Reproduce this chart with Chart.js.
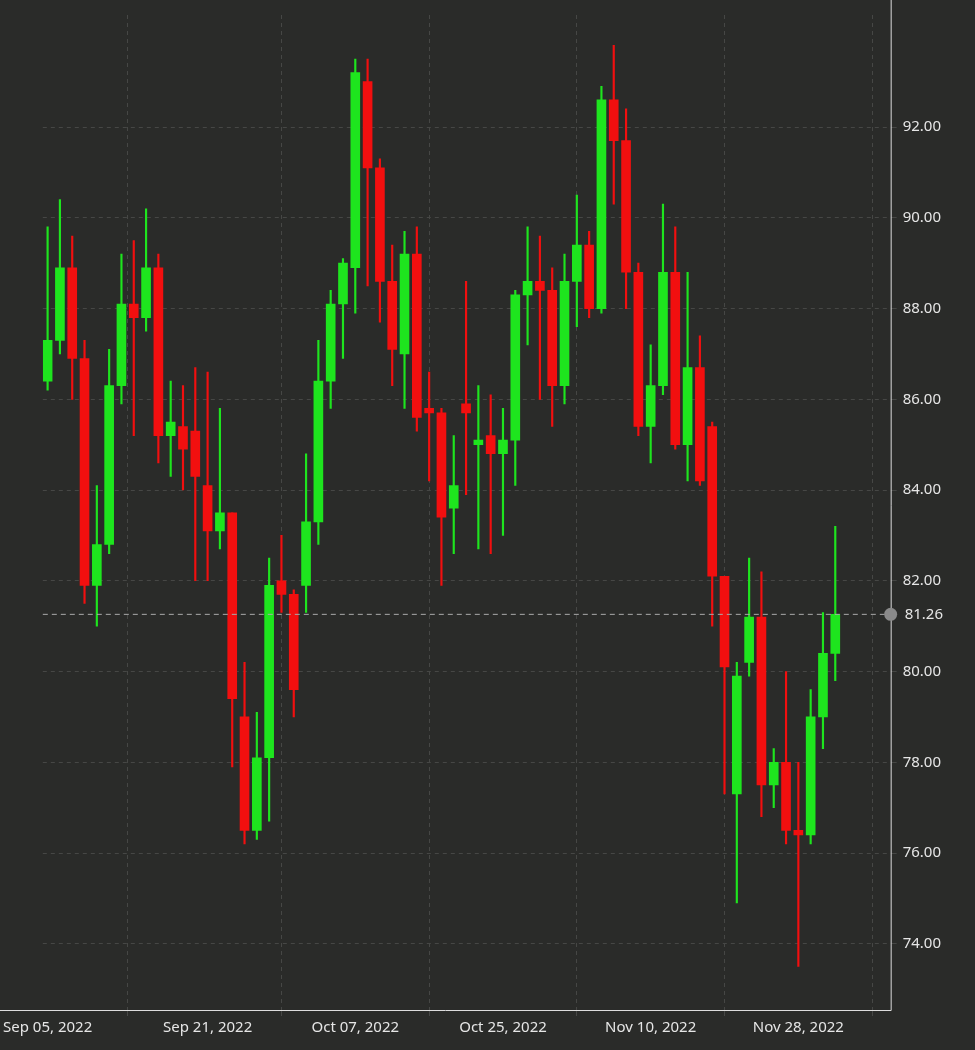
<!DOCTYPE html>
<html>
<head>
<meta charset="utf-8">
<script src="https://cdn.jsdelivr.net/npm/chart.js@4"></script>
<style>
  html, body { margin: 0; padding: 0; background: #2a2b29; }
  #wrap { width: 975px; height: 1050px; position: relative; }
</style>
</head>
<body>
<div id="wrap"><canvas id="chart1"></canvas></div>
<script>
const dates = [
  "Sep 05, 2022","Sep 06, 2022","Sep 07, 2022","Sep 08, 2022","Sep 09, 2022","Sep 12, 2022","Sep 13, 2022","Sep 14, 2022",
  "Sep 15, 2022","Sep 16, 2022","Sep 18, 2022","Sep 19, 2022","Sep 20, 2022","Sep 21, 2022","Sep 22, 2022","Sep 23, 2022",
  "Sep 26, 2022","Sep 27, 2022","Sep 28, 2022","Sep 29, 2022","Sep 30, 2022","Oct 03, 2022","Oct 04, 2022","Oct 05, 2022",
  "Oct 06, 2022","Oct 07, 2022","Oct 10, 2022","Oct 11, 2022","Oct 12, 2022","Oct 13, 2022","Oct 14, 2022","Oct 17, 2022",
  "Oct 18, 2022","Oct 19, 2022","Oct 20, 2022","Oct 21, 2022","Oct 24, 2022","Oct 25, 2022","Oct 26, 2022","Oct 27, 2022",
  "Oct 28, 2022","Oct 31, 2022","Nov 01, 2022","Nov 02, 2022","Nov 03, 2022","Nov 04, 2022","Nov 07, 2022","Nov 08, 2022",
  "Nov 09, 2022","Nov 10, 2022","Nov 11, 2022","Nov 14, 2022","Nov 15, 2022","Nov 16, 2022","Nov 17, 2022","Nov 18, 2022",
  "Nov 21, 2022","Nov 22, 2022","Nov 23, 2022","Nov 25, 2022","Nov 27, 2022","Nov 28, 2022","Nov 29, 2022","Nov 30, 2022",
  "Dec 01, 2022"
];
const tickIndexes = [0, 13, 25, 37, 49, 61];
const yTicks = [74, 76, 78, 80, 82, 84, 86, 88, 90, 92];
const opens  = [86.4,87.3,88.9,86.9,81.9,82.8,86.3,88.1,87.8,88.9,85.2,85.4,85.3,84.1,83.1,83.5,79.0,76.5,78.1,82.0,81.7,81.9,83.3,86.4,88.1,88.9,93.0,91.1,88.6,87.0,89.2,85.8,85.7,83.6,85.9,85.0,85.2,84.8,85.1,88.3,88.6,88.4,86.3,88.6,89.4,88.0,92.6,91.7,88.8,85.4,86.3,88.8,85.0,86.7,85.4,82.1,77.3,80.2,81.2,77.5,78.0,76.5,76.4,79.0,80.4];
const closes = [87.3,88.9,86.9,81.9,82.8,86.3,88.1,87.8,88.9,85.2,85.5,84.9,84.3,83.1,83.5,79.4,76.5,78.1,81.9,81.7,79.6,83.3,86.4,88.1,89.0,93.2,91.1,88.6,87.1,89.2,85.6,85.7,83.4,84.1,85.7,85.1,84.8,85.1,88.3,88.6,88.4,86.3,88.6,89.4,88.0,92.6,91.7,88.8,85.4,86.3,88.8,85.0,86.7,84.2,82.1,80.1,79.9,81.2,77.5,78.0,76.5,76.4,79.0,80.4,81.26];
const highs  = [89.8,90.4,89.6,87.3,84.1,87.1,89.2,89.5,90.2,89.2,86.4,86.3,86.7,86.6,85.8,83.5,80.2,79.1,82.5,83.0,81.8,84.8,87.3,88.4,89.1,93.5,93.5,91.3,89.4,89.7,89.8,86.6,85.8,85.2,88.6,86.3,86.1,85.8,88.4,89.8,89.6,88.9,89.2,90.5,89.7,92.9,93.8,92.4,89.0,87.2,90.3,89.8,88.8,87.4,85.5,82.1,80.2,82.5,82.2,78.3,80.0,78.0,79.6,81.3,83.2];
const lows   = [86.2,87.0,86.0,81.5,81.0,82.6,85.9,85.2,87.5,84.6,84.3,84.0,82.0,82.0,82.7,77.9,76.2,76.3,76.7,81.3,79.0,81.3,82.8,85.8,86.9,87.9,88.5,87.7,86.3,85.8,85.3,84.2,81.9,82.6,83.9,82.7,82.6,83.0,84.1,87.2,86.0,85.4,85.9,87.6,87.8,87.9,90.3,88.0,85.2,84.6,86.1,84.9,84.2,84.1,81.0,77.3,74.9,79.9,76.8,77.0,76.2,73.5,76.2,78.3,79.8];
const lastPrice = 81.26;

const green = "#1ee51e", red = "#f20f0f";
const candleColors = opens.map((o, i) => closes[i] >= o ? green : red);

const axesPlugin = {
  id: "axesAndLast",
  afterDatasetsDraw(chart) {
    const { ctx, chartArea, scales } = chart;
    const y = scales.y.getPixelForValue(lastPrice);
    ctx.save();
    ctx.strokeStyle = "#dddddd";
    ctx.lineWidth = 1;
    ctx.beginPath();
    ctx.moveTo(chartArea.right + 0.5, 0);
    ctx.lineTo(chartArea.right + 0.5, chartArea.bottom + 0.5);
    ctx.lineTo(0, chartArea.bottom + 0.5);
    ctx.stroke();
    ctx.strokeStyle = "#aaaaaa";
    ctx.setLineDash([5, 4]);
    ctx.beginPath();
    ctx.moveTo(chartArea.left, y);
    ctx.lineTo(chartArea.right, y);
    ctx.stroke();
    ctx.setLineDash([]);
    ctx.fillStyle = "#8a8a8a";
    ctx.beginPath();
    ctx.arc(chartArea.right, y, 6.5, 0, Math.PI * 2);
    ctx.fill();
    ctx.fillStyle = "#e6e6e6";
    ctx.font = "15px 'Noto Sans'";
    ctx.textBaseline = "middle";
    ctx.fillText(lastPrice.toFixed(2), chartArea.right + 14, y);
    ctx.restore();
  }
};

new Chart(document.getElementById("chart1"), {
  type: "bar",
  data: {
    datasets: [
      { label: "wick", data: lows.map((l, i) => ({ x: i, y: [l, highs[i]] })), backgroundColor: candleColors, barThickness: 1.5, grouped: false, order: 2 },
      { label: "body", data: opens.map((o, i) => ({ x: i, y: [o, closes[i]] })), backgroundColor: candleColors, barThickness: 9, grouped: false, order: 1, minBarLength: 2 }
    ]
  },
  options: {
    responsive: true,
    maintainAspectRatio: false,
    animation: false,
    layout: { padding: { left: 0, top: 0, right: 28, bottom: 10 } },
    scales: {
      x: {
        type: "linear",
        offset: false,
        min: -0.39,
        max: 68.5,
        afterBuildTicks: s => { s.ticks = tickIndexes.map(v => ({ value: v })); },
        grid: { color: "#464745", tickLength: 6 },
        border: { display: false, dash: [4, 4] },
        ticks: { maxRotation: 0, color: "#e6e6e6", font: { family: "Noto Sans", size: 15 }, callback: v => dates[v] }
      },
      y: {
        position: "right",
        min: 72.54,
        max: 94.47,
        afterBuildTicks: s => { s.ticks = yTicks.map(v => ({ value: v })); },
        grid: { color: "#464745", tickLength: 6 },
        border: { display: false, dash: [4, 4] },
        ticks: { color: "#e6e6e6", font: { family: "Noto Sans", size: 15 }, callback: v => v.toFixed(2), padding: 6 }
      }
    },
    plugins: { legend: { display: false }, tooltip: { enabled: false } }
  },
  plugins: [axesPlugin]
});
</script>
</body>
</html>
